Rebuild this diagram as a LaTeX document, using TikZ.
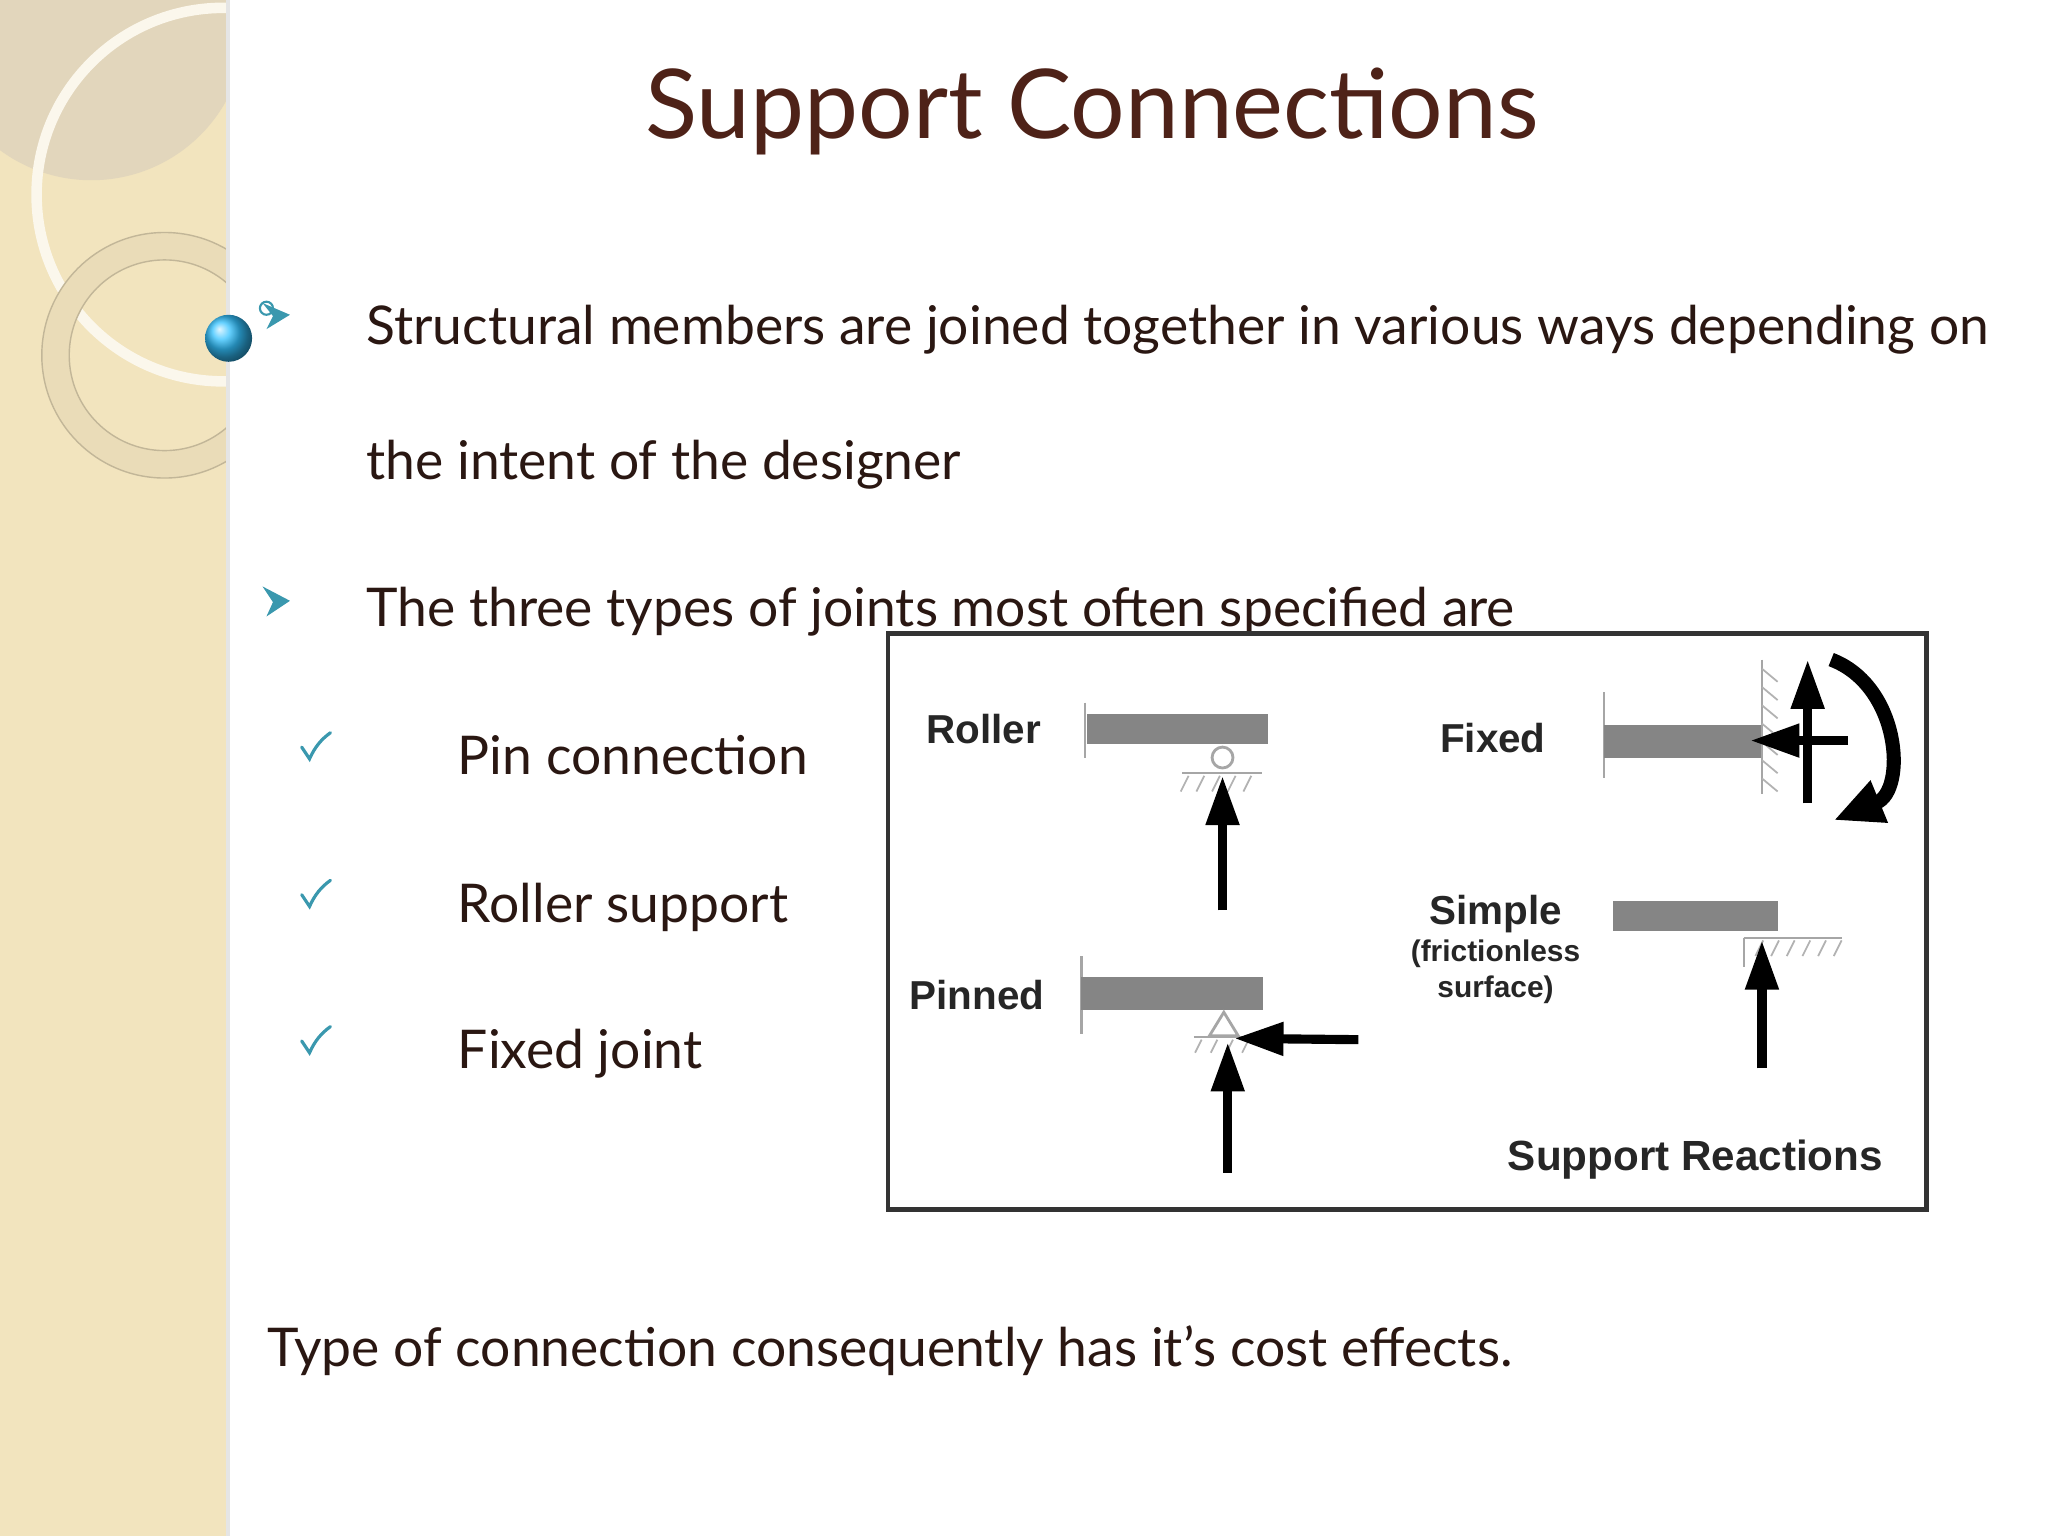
\documentclass[tikz,border=0pt]{standalone}
\usepackage{fontspec}
\setmainfont{Lato}
\newfontfamily\figfont{Liberation Sans}
\usetikzlibrary{arrows.meta}
\definecolor{panel}{HTML}{F2E4BE}
\definecolor{ringc}{HTML}{EADCB8}
\definecolor{shadec}{HTML}{E2D6BC}
\definecolor{titlec}{HTML}{4E2218}
\definecolor{bodyc}{HTML}{2A1712}
\definecolor{teal}{HTML}{3A98AE}
\definecolor{beamc}{HTML}{858585}
\begin{document}
\begin{tikzpicture}[x=0.013061cm,y=-0.013061cm,
  body/.style={anchor=base west,text=bodyc,font=\fontsize{15.2}{18}\selectfont,inner sep=0},
  lab/.style={font=\figfont\bfseries\fontsize{11.5}{12}\selectfont,text=black!85,inner sep=0},
  beam/.style={fill=beamc,draw=none},
  thin/.style={draw=gray!70,line width=0.6pt},
  hatch/.style={draw=gray!60,line width=0.5pt},
  force/.style={draw=black,line width=2.6pt,-{Triangle[length=14pt,width=9pt]}},
  arrowbul/.style={fill=teal,draw=none},
  check/.style={draw=teal,line width=0.9pt,line cap=round}]
\useasboundingbox (0,0) rectangle (1568,1176);
\fill[white] (0,0) rectangle (1568,1176);
% left panel
\fill[panel] (0,0) rectangle (173,1176);
\begin{scope}
\clip (0,0) rectangle (173,1176);
\fill[shadec] (70,20) circle (118);
\draw[white!70!panel,line width=3pt] (171,149) circle (143);
\fill[ringc,even odd rule] (126,272) circle (94) (126,272) circle (73);
\draw[panel!80!black,line width=0.4pt] (126,272) circle (94) (126,272) circle (73);
\end{scope}
\fill[black!10] (173,0) rectangle (176,1176);
\shade[ball color=cyan!70!blue!80] (175,259) circle (18);
\node[draw=none] (ball) at (175,259) {};
% title
\node[text=titlec,font=\fontsize{27.4}{32}\selectfont,inner sep=0] (title) at (836,85) {Support Connections};
% arrow bullets
\fill[arrowbul] (201,232) -- (222,241) -- (204,252) -- (209,242) -- cycle;
\draw[teal,line width=0.6pt] (204,236) circle (5);
\fill[arrowbul] (201,449) -- (222,460) -- (204,472) -- (209,461) -- cycle;
\node[body] (b1) at (280,264) {Structural members are joined together in various ways depending on};
\node[body] (b1b) at (280,367) {the intent of the designer};
\node[body] (b2) at (280,480) {The three types of joints most often specified are};
% check items
\foreach \y/\t/\n in {572/Pin connection/c1,685/Roller support/c2,797/Fixed joint/c3}{
  \draw[check] (231,\y) -- (237,\y+9) .. controls (241,\y) and (246,\y-6) .. (253,\y-11);
  \node[body] (\n) at (350,\y+21) {\t};
}
\node[body] (foot) at (204,1046) {Type of connection consequently has it’s cost effects.};
% figure box
\draw[black!80,line width=1.2pt] (680,485) rectangle (1475,926);
% Roller
\node[lab] (roller) at (753,558) {Roller};
\draw[thin] (831,538) -- (831,580);
\fill[beam] (832,547) rectangle (971,570);
\draw[gray!70,line width=0.8pt] (936,580) circle (8);
\draw[thin] (905,592) -- (966,592);
\foreach \x in {910,922,934,946,958}{\draw[hatch] (\x,594) -- (\x-6,606);}
\coordinate (rs) at (936,697); \coordinate (re) at (936,594);
\draw[force] (rs) -- (re);
% Pinned
\node[lab] (pinned) at (748,762) {Pinned};
\draw[thin] (828,732) -- (828,792);
\fill[beam] (828,748) rectangle (967,773);
\draw[gray!70,line width=0.8pt] (937,775) -- (926,793) -- (948,793) -- cycle;
\draw[thin] (914,794) -- (962,794);
\foreach \x in {920,932,944,956}{\draw[hatch] (\x,796) -- (\x-5,806);}
\coordinate (ph1) at (1040,796); \coordinate (ph2) at (945,795);
\draw[force] (ph1) -- (ph2);
\coordinate (pv1) at (940,898); \coordinate (pv2) at (940,798);
\draw[force] (pv1) -- (pv2);
% Fixed
\node[lab] (fixed) at (1143,565) {Fixed};
\draw[thin] (1228,530) -- (1228,596);
\fill[beam] (1228,555) rectangle (1350,580);
\draw[thin] (1349,505) -- (1349,608);
\foreach \y in {512,526,540,554,568,582,596}{\draw[hatch] (1349,\y) -- (1361,\y+10);}
\coordinate (fh1) at (1415,567); \coordinate (fh2) at (1340,567);
\draw[force] (fh1) -- (fh2);
\coordinate (fv1) at (1384,615); \coordinate (fv2) at (1384,505);
\draw[force] (fv1) -- (fv2);
\coordinate (m1) at (1402,505); \coordinate (m2) at (1404,628);
\draw[draw=black,line width=4pt,-{Triangle[length=14pt,width=12pt]}] (m1) .. controls (1455,525) and (1460,605) .. (m2);
% Simple
\node[lab] (simple) at (1145,700) {Simple};
\node[lab,font=\figfont\bfseries\fontsize{8.5}{9}\selectfont] (fric) at (1145,730) {(frictionless};
\node[lab,font=\figfont\bfseries\fontsize{8.5}{9}\selectfont] (surf) at (1145,758) {surface)};
\fill[beam] (1235,690) rectangle (1361,713);
\draw[thin] (1335,718) -- (1410,718);
\draw[thin] (1335,718) -- (1335,740);
\foreach \x in {1350,1362,1374,1386,1398,1410}{\draw[hatch] (\x,720) -- (\x-6,732);}
\coordinate (s1) at (1349,818); \coordinate (s2) at (1349,720);
\draw[force] (s1) -- (s2);
\node[lab,font=\figfont\bfseries\fontsize{12}{13}\selectfont] (sr) at (1298,888) {Support Reactions};
\end{tikzpicture}
\end{document}
